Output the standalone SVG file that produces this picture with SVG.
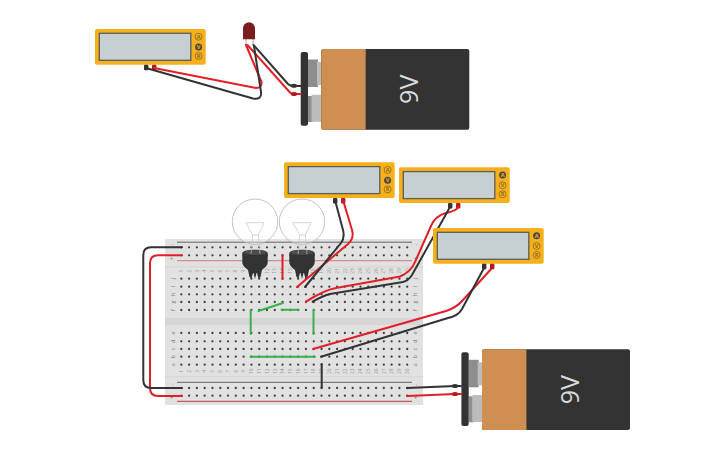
<svg xmlns="http://www.w3.org/2000/svg" width="725" height="453" viewBox="0 0 725 453">
<style>
text{font-family:"Open Sans","DejaVu Sans",sans-serif}
.mb{fill:#f5b01c}.scr{fill:#c6d0d3;stroke:#5c5c5c;stroke-width:1.3}
.btn{fill:none;stroke:#8a6a20;stroke-width:.8}.on{fill:#4a4a4a;stroke:none}
.bt{font-size:5.5px;font-weight:700;text-anchor:middle;fill:#8a6a20}.bton{fill:#f5b01c}
.w{fill:none;stroke-width:2;stroke-linecap:round;stroke-linejoin:round}
.k{stroke:#333}.r{stroke:#e01f26}.g{stroke:#3bb04a}
.pk{fill:#333}.pr{fill:#b3191e}
.h{stroke:#404040;stroke-width:2.3;stroke-linecap:round;stroke-dasharray:0 7.79;fill:none}
.n{font-size:4.8px;fill:#999;text-anchor:middle}
.l{font-size:5.5px;fill:#777;text-anchor:middle}
.glass{fill:#fff;fill-opacity:.35;stroke:#b4b4b4;stroke-width:.8}
.fil{fill:none;stroke:#c4c4c4;stroke-width:.7}
.v9{font-size:25px;fill:#dcdcdc;text-anchor:middle}
</style>
<defs>
<g id="bat">
<rect x="308" y="59.5" width="10" height="27.5" fill="#8e8e8e"/>
<rect x="317" y="62" width="5" height="23" fill="#bcbcbc"/>
<rect x="308" y="96" width="5" height="26" fill="#8e8e8e"/>
<rect x="311.500" y="94.700" width="10" height="27" rx="1" fill="#bcbcbc"/>
<rect x="300.700" y="52" width="7.300" height="73.700" rx="2" fill="#333"/>
<rect x="321.300" y="49" width="148" height="80.700" rx="2" fill="#333"/>
<path d="M323.300 49H365.700V129.700H323.300a2 2 0 0 1-2-2V51a2 2 0 0 1 2-2z" fill="#cf8e52"/>
</g>
<g id="bulb">
<circle cx="255" cy="221.700" r="22.700" class="glass"/>
<path d="M242.300 253C242.300 248.500 267.700 248.500 267.700 253V262C267.700 266 264 268 262 270L260.500 277L258.500 278.500L257 273H256.500L255 279L253.500 273H253L251.500 278.500L249.500 277L248 270C246 268 242.300 266 242.300 262Z" fill="#333"/>
<ellipse cx="255" cy="252.500" rx="11.500" ry="2.500" fill="#4c4c4c"/>
<path d="M245.700 222.700H264L258.300 235H252.700ZM252.700 235L251 254M258.300 235L260 254" class="fil"/>
</g>
</defs>
<rect width="725" height="453" fill="#fff"/>

<g id="breadboard">
<rect x="165" y="239" width="258" height="166" fill="#e1e1e1"/>
<rect x="165" y="318" width="258" height="7" fill="#d6d6d6"/>
<path d="M165 267H423M165 376.700H423" stroke="#d0d0d0" stroke-width=".7"/>
<path d="M177 242.200H412M177 382.300H412" stroke="#555" stroke-width=".9"/>
<path d="M177 260.700H412" stroke="#cf8f90" stroke-width="1.2"/>
<path d="M177 401.300H412" stroke="#b2282c" stroke-width=".9"/>
<path class="h" d="M181.300 247.300H408M181.300 255.300H408M181.300 278.700H408M181.300 286.700H408M181.300 294.300H408M181.300 302H408M181.300 310H408M181.300 333H408M181.300 341.300H408M181.300 349H408M181.300 356.700H408M181.300 364.700H408M181.300 388H408M181.300 395.700H408"/>
<g class="l">
<text x="171.500" y="246.500" transform="rotate(-90 171.500 244.500)">-</text><text x="171.500" y="261" >+</text>
<text x="415.700" y="246.500" transform="rotate(-90 415.700 244.500)">-</text><text x="415.700" y="261">+</text>
<text x="171.500" y="387" transform="rotate(-90 171.500 385)">-</text><text x="171.500" y="400">+</text>
<text x="415.700" y="387" transform="rotate(-90 415.700 385)">-</text><text x="415.700" y="400">+</text>
<text x="173" y="280.500" transform="rotate(-90 173 278.700)">j</text><text x="173" y="288.500" transform="rotate(-90 173 286.700)">i</text><text x="173" y="296.100" transform="rotate(-90 173 294.300)">h</text><text x="173" y="303.800" transform="rotate(-90 173 302)">g</text><text x="173" y="311.800" transform="rotate(-90 173 310)">f</text>
<text x="173" y="334.800" transform="rotate(-90 173 333)">e</text><text x="173" y="343.100" transform="rotate(-90 173 341.300)">d</text><text x="173" y="350.800" transform="rotate(-90 173 349)">c</text><text x="173" y="358.500" transform="rotate(-90 173 356.700)">b</text><text x="173" y="366.500" transform="rotate(-90 173 364.700)">a</text>
<text x="415" y="280.500" transform="rotate(-90 415 278.700)">j</text><text x="415" y="288.500" transform="rotate(-90 415 286.700)">i</text><text x="415" y="296.100" transform="rotate(-90 415 294.300)">h</text><text x="415" y="303.800" transform="rotate(-90 415 302)">g</text><text x="415" y="311.800" transform="rotate(-90 415 310)">f</text>
<text x="415" y="334.800" transform="rotate(-90 415 333)">e</text><text x="415" y="343.100" transform="rotate(-90 415 341.300)">d</text><text x="415" y="350.800" transform="rotate(-90 415 349)">c</text><text x="415" y="358.500" transform="rotate(-90 415 356.700)">b</text><text x="415" y="366.500" transform="rotate(-90 415 364.700)">a</text>
</g>
<g class="n">
<text x="181.300" y="272.700" transform="rotate(-90 181.300 271)">1</text><text x="189.100" y="272.700" transform="rotate(-90 189.100 271)">2</text><text x="196.900" y="272.700" transform="rotate(-90 196.900 271)">3</text><text x="204.700" y="272.700" transform="rotate(-90 204.700 271)">4</text><text x="212.500" y="272.700" transform="rotate(-90 212.500 271)">5</text><text x="220.300" y="272.700" transform="rotate(-90 220.300 271)">6</text><text x="228" y="272.700" transform="rotate(-90 228 271)">7</text><text x="235.800" y="272.700" transform="rotate(-90 235.800 271)">8</text><text x="243.600" y="272.700" transform="rotate(-90 243.600 271)">9</text><text x="251.400" y="272.700" transform="rotate(-90 251.400 271)">10</text><text x="259.200" y="272.700" transform="rotate(-90 259.200 271)">11</text><text x="267" y="272.700" transform="rotate(-90 267 271)">12</text><text x="274.800" y="272.700" transform="rotate(-90 274.800 271)">13</text><text x="282.600" y="272.700" transform="rotate(-90 282.600 271)">14</text><text x="290.400" y="272.700" transform="rotate(-90 290.400 271)">15</text><text x="298.200" y="272.700" transform="rotate(-90 298.200 271)">16</text><text x="305.900" y="272.700" transform="rotate(-90 305.900 271)">17</text><text x="313.700" y="272.700" transform="rotate(-90 313.700 271)">18</text><text x="321.500" y="272.700" transform="rotate(-90 321.500 271)">19</text><text x="329.300" y="272.700" transform="rotate(-90 329.300 271)">20</text><text x="337.100" y="272.700" transform="rotate(-90 337.100 271)">21</text><text x="344.900" y="272.700" transform="rotate(-90 344.900 271)">22</text><text x="352.700" y="272.700" transform="rotate(-90 352.700 271)">23</text><text x="360.500" y="272.700" transform="rotate(-90 360.500 271)">24</text><text x="368.300" y="272.700" transform="rotate(-90 368.300 271)">25</text><text x="376.100" y="272.700" transform="rotate(-90 376.100 271)">26</text><text x="383.800" y="272.700" transform="rotate(-90 383.800 271)">27</text><text x="391.600" y="272.700" transform="rotate(-90 391.600 271)">28</text><text x="399.400" y="272.700" transform="rotate(-90 399.400 271)">29</text><text x="407.200" y="272.700" transform="rotate(-90 407.200 271)">30</text>
<text x="181.300" y="373" transform="rotate(-90 181.300 371.300)">1</text><text x="189.100" y="373" transform="rotate(-90 189.100 371.300)">2</text><text x="196.900" y="373" transform="rotate(-90 196.900 371.300)">3</text><text x="204.700" y="373" transform="rotate(-90 204.700 371.300)">4</text><text x="212.500" y="373" transform="rotate(-90 212.500 371.300)">5</text><text x="220.300" y="373" transform="rotate(-90 220.300 371.300)">6</text><text x="228" y="373" transform="rotate(-90 228 371.300)">7</text><text x="235.800" y="373" transform="rotate(-90 235.800 371.300)">8</text><text x="243.600" y="373" transform="rotate(-90 243.600 371.300)">9</text><text x="251.400" y="373" transform="rotate(-90 251.400 371.300)">10</text><text x="259.200" y="373" transform="rotate(-90 259.200 371.300)">11</text><text x="267" y="373" transform="rotate(-90 267 371.300)">12</text><text x="274.800" y="373" transform="rotate(-90 274.800 371.300)">13</text><text x="282.600" y="373" transform="rotate(-90 282.600 371.300)">14</text><text x="290.400" y="373" transform="rotate(-90 290.400 371.300)">15</text><text x="298.200" y="373" transform="rotate(-90 298.200 371.300)">16</text><text x="305.900" y="373" transform="rotate(-90 305.900 371.300)">17</text><text x="313.700" y="373" transform="rotate(-90 313.700 371.300)">18</text><text x="321.500" y="373" transform="rotate(-90 321.500 371.300)">19</text><text x="329.300" y="373" transform="rotate(-90 329.300 371.300)">20</text><text x="337.100" y="373" transform="rotate(-90 337.100 371.300)">21</text><text x="344.900" y="373" transform="rotate(-90 344.900 371.300)">22</text><text x="352.700" y="373" transform="rotate(-90 352.700 371.300)">23</text><text x="360.500" y="373" transform="rotate(-90 360.500 371.300)">24</text><text x="368.300" y="373" transform="rotate(-90 368.300 371.300)">25</text><text x="376.100" y="373" transform="rotate(-90 376.100 371.300)">26</text><text x="383.800" y="373" transform="rotate(-90 383.800 371.300)">27</text><text x="391.600" y="373" transform="rotate(-90 391.600 371.300)">28</text><text x="399.400" y="373" transform="rotate(-90 399.400 371.300)">29</text><text x="407.200" y="373" transform="rotate(-90 407.200 371.300)">30</text>
</g>
</g>

<g id="bulb1"><use href="#bulb"/></g>
<g id="bulb2"><use href="#bulb" x="47"/></g>

<g id="battery1"><use href="#bat"/><text class="v9" transform="translate(418 89.300) rotate(-90)">9V</text></g>
<g id="battery2"><use href="#bat" x="160.700" y="300.300"/><text class="v9" transform="translate(578.700 389.600) rotate(-90)">9V</text></g>

<g id="led1">
<path d="M246 39V45M253 39V45" stroke="#b5b5b5" stroke-width="1.2"/>
<path d="M243 39.300V28.300a6 6 0 0 1 12 0V39.300Z" fill="#7d1c20"/>
</g>

<g id="meter1">
<rect x="95" y="29" width="110.700" height="35.700" rx="2" class="mb"/>
<rect x="99.300" y="33.300" width="91.500" height="27" class="scr"/>
<circle cx="198.600" cy="36.700" r="3.500" class="btn"/><circle cx="198.600" cy="47" r="3.500" class="btn on"/><circle cx="198.600" cy="56" r="3.500" class="btn"/>
<text x="198.600" y="38.600" class="bt">A</text><text x="198.600" y="48.900" class="bt bton">V</text><text x="198.600" y="57.900" class="bt">R</text>
<rect x="144" y="64.700" width="4.400" height="5.500" rx="1" class="pk"/><rect x="152" y="64.700" width="4.400" height="5.500" rx="1" class="pr"/>
</g>
<g id="meter2" transform="translate(189 133.300)">
<rect x="95" y="29" width="110.700" height="35.700" rx="2" class="mb"/>
<rect x="99.300" y="33.300" width="91.500" height="27" class="scr"/>
<circle cx="198.600" cy="36.700" r="3.500" class="btn"/><circle cx="198.600" cy="47" r="3.500" class="btn on"/><circle cx="198.600" cy="56" r="3.500" class="btn"/>
<text x="198.600" y="38.600" class="bt">A</text><text x="198.600" y="48.900" class="bt bton">V</text><text x="198.600" y="57.900" class="bt">R</text>
<rect x="144" y="64.700" width="4.400" height="5.500" rx="1" class="pk"/><rect x="152" y="64.700" width="4.400" height="5.500" rx="1" class="pr"/>
</g>
<g id="meter3" transform="translate(304 138.300)">
<rect x="95" y="29" width="110.700" height="35.700" rx="2" class="mb"/>
<rect x="99.300" y="33.300" width="91.500" height="27" class="scr"/>
<circle cx="198.600" cy="36.700" r="3.500" class="btn on"/><circle cx="198.600" cy="47" r="3.500" class="btn"/><circle cx="198.600" cy="56" r="3.500" class="btn"/>
<text x="198.600" y="38.600" class="bt bton">A</text><text x="198.600" y="48.900" class="bt">V</text><text x="198.600" y="57.900" class="bt">R</text>
<rect x="144" y="64.700" width="4.400" height="5.500" rx="1" class="pk"/><rect x="152" y="64.700" width="4.400" height="5.500" rx="1" class="pr"/>
</g>

<g id="connectors">
<g class="w r">
<path d="M154 68L256 88Q262 88 261.500 82L246 45"/>
<path d="M247.500 45L290 92.500Q291 94 295 94H301"/>
<path d="M343 200L352 230Q354.500 238 348 244L297 287"/>
<path d="M458.500 207Q456 211 446 213Q435 216 431 226L415 262Q411 272 400 276.500L336 288Q324 290 306 301.700"/>
<path d="M492 268L463 300Q456 308 446 311L313 349"/>
<path d="M182 255.300H158Q150 255.300 150 263.300V388Q150 396 158 396H182"/>
<path d="M407 396L455 394H461"/>
<path d="M282.500 255V279"/>
</g>
<g class="w k">
<path d="M146 68L253 98.500Q262 100 261 92L254 46"/>
<path d="M253.500 45L288 84Q290 86 294 86H301"/>
<path d="M335 200L343 230Q345 238 341 243L305 287"/>
<path d="M450 207L412 275Q408 281 403 282L330 294Q322 296 312.700 301.700"/>
<path d="M484 268L462 309Q458 316 448 318L321 356.700"/>
<path d="M182 247.300H151Q143.300 247.300 143.300 255V380Q143.300 388 151 388H182"/>
<path d="M407 388L455 386H461"/>
<path d="M321.700 364V388"/>
</g>
<g class="w g">
<path d="M250.700 310V334"/>
<path d="M258.500 311L283 303"/>
<path d="M281.500 309.700H298.500"/>
<path d="M313.500 310V334"/>
<path d="M250.500 356.700H315"/>
</g>
<g>
<ellipse cx="294" cy="85.800" rx="3.200" ry="2" class="pk"/><ellipse cx="294" cy="94" rx="3.200" ry="2" class="pr"/>
<ellipse cx="455" cy="386" rx="3.200" ry="2" class="pk"/><ellipse cx="455" cy="394" rx="3.200" ry="2" class="pr"/>
</g>
</g>

<g id="meter4" transform="translate(338 199)">
<rect x="95" y="29" width="110.700" height="35.700" rx="2" class="mb"/>
<rect x="99.300" y="33.300" width="91.500" height="27" class="scr"/>
<circle cx="198.600" cy="36.700" r="3.500" class="btn on"/><circle cx="198.600" cy="47" r="3.500" class="btn"/><circle cx="198.600" cy="56" r="3.500" class="btn"/>
<text x="198.600" y="38.600" class="bt bton">A</text><text x="198.600" y="48.900" class="bt">V</text><text x="198.600" y="57.900" class="bt">R</text>
<rect x="144" y="64.700" width="4.400" height="5.500" rx="1" class="pk"/><rect x="152" y="64.700" width="4.400" height="5.500" rx="1" class="pr"/>
</g>
</svg>
